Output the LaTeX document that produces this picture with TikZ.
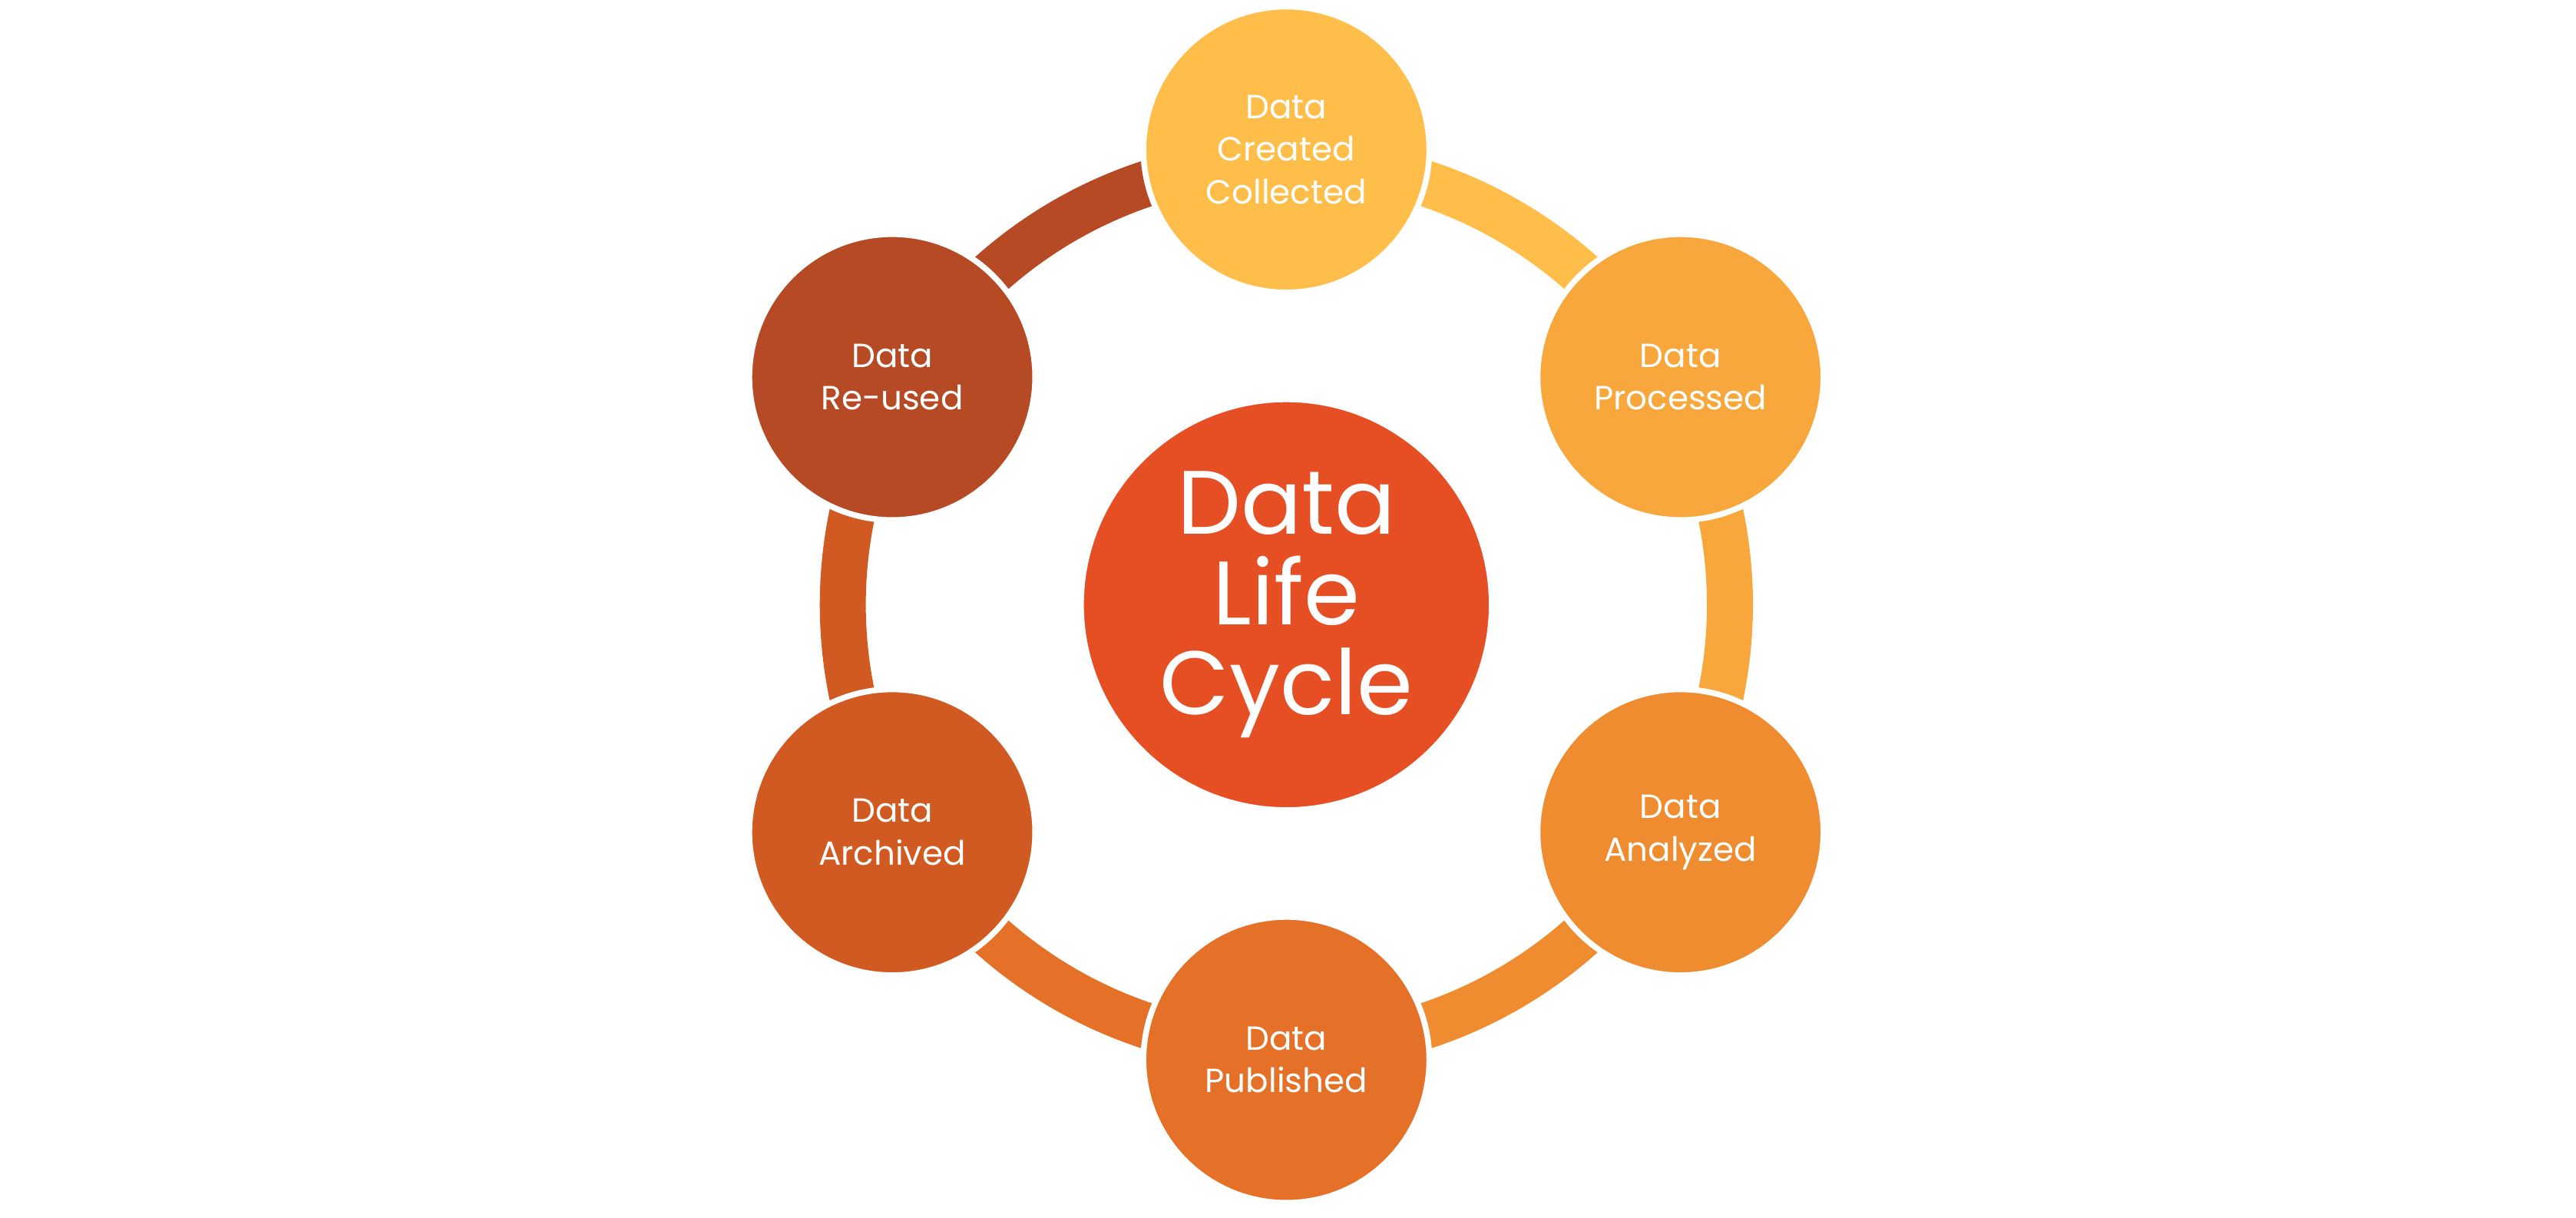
\documentclass[tikz,border=0pt]{standalone}
\usepackage{fontspec}
\setmainfont{Poppins}
\usetikzlibrary{calc}
\definecolor{cCreated}{HTML}{FFBE4A}
\definecolor{cProcessed}{HTML}{F8A73C}
\definecolor{cAnalyzed}{HTML}{EF8C30}
\definecolor{cPublished}{HTML}{E47127}
\definecolor{cArchived}{HTML}{D05A22}
\definecolor{cReused}{HTML}{B54A24}
\definecolor{cCenter}{HTML}{E64E24}
\begin{document}
\begin{tikzpicture}[stage/.style = {circle, minimum size=8.7cm, inner sep=0pt, draw=white, line width=5pt, text=white, align=center, font=\fontsize{29}{37}\selectfont}]
\useasboundingbox (0,0) rectangle (78.4,37.05);
\coordinate (c) at (39.15,18.65);
% ring segments, each in the colour of the stage it starts from
\foreach \a/\col in {90/cCreated, 30/cProcessed, -30/cAnalyzed, -90/cPublished, -150/cArchived, 150/cReused}
  \draw[\col, line width=1.4cm] ($(c)+(\a:13.5)$) arc[start angle=\a, end angle=\a-60, radius=13.5];
\node[stage, fill=cCreated] (created) at ($(c)+(90:13.85)$) {Data\\Created\\Collected};
\node[stage, fill=cProcessed] (processed) at ($(c)+(30:13.85)$) {Data\\Processed};
\node[stage, fill=cAnalyzed] (analyzed) at ($(c)+(-30:13.85)$) {Data\\Analyzed};
\node[stage, fill=cPublished] (published) at ($(c)+(-90:13.85)$) {Data\\Published};
\node[stage, fill=cArchived] (archived) at ($(c)+(-150:13.85)$) {Data\\Archived};
\node[stage, fill=cReused] (reused) at ($(c)+(150:13.85)$) {Data\\Re-used};
\node[stage, fill=cCenter, minimum size=12.5cm, font=\fontsize{78}{78}\selectfont] (cycle) at (c) {Data\\Life\\Cycle};
\end{tikzpicture}
\end{document}
